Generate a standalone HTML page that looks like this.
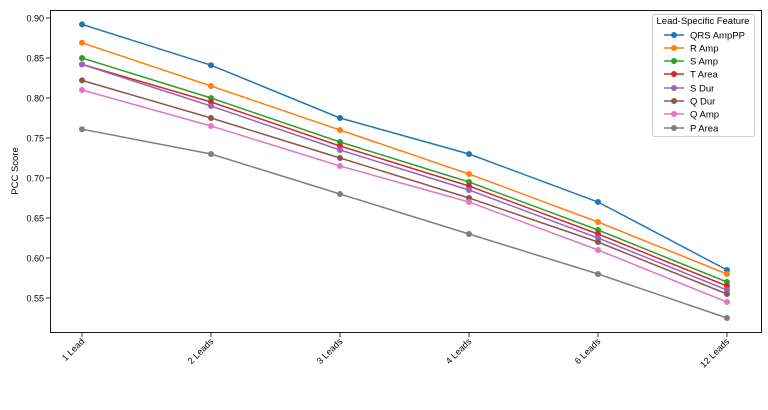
<!DOCTYPE html>
<html><head><meta charset="utf-8"><style>body{margin:0;background:#fff}svg{display:block;font-family:"Liberation Sans","DejaVu Sans",sans-serif}</style></head>
<body>
<svg id="s" width="768" height="410" viewBox="0 0 768 410" xmlns="http://www.w3.org/2000/svg">
<rect x="0" y="0" width="768" height="410" fill="#fff"/>
<g id="g"></g>
<rect x="50.5" y="10.5" width="711" height="322" fill="none" stroke="#000" stroke-width="0.9"/>
<text x="18" y="171" font-size="9.5" text-anchor="middle" transform="rotate(-90 18 171)">PCC Score</text>
</svg>
<script>
const ns="http://www.w3.org/2000/svg",g=document.getElementById('g');
function el(t,a,txt){const e=document.createElementNS(ns,t);for(const k in a)e.setAttribute(k,a[k]);if(txt!==undefined)e.textContent=txt;g.appendChild(e);return e;}
const Y=v=>18+(0.90-v)*800, X=[82,211,340,469,598,727];
const labs=["1 Lead","2 Leads","3 Leads","4 Leads","6 Leads","12 Leads"];
[0.90,0.85,0.80,0.75,0.70,0.65,0.60,0.55].forEach(v=>{const y=Y(v);el('line',{x1:46,x2:50,y1:y,y2:y,stroke:'#000','stroke-width':0.8});el('text',{x:44,y:y+3.3,'font-size':9,'text-anchor':'end'},v.toFixed(2));});
X.forEach((x,i)=>{el('line',{x1:x,x2:x,y1:333,y2:337,stroke:'#000','stroke-width':0.8});el('text',{x:x+3,y:342,'font-size':9,'text-anchor':'end',transform:`rotate(-45 ${x+3} 342)`},labs[i]);});
const S=[["QRS AmpPP","#1f77b4",[0.892,0.841,0.775,0.730,0.670,0.585]],
["R Amp","#ff7f0e",[0.869,0.815,0.760,0.705,0.645,0.580]],
["S Amp","#2ca02c",[0.850,0.800,0.745,0.695,0.635,0.570]],
["T Area","#d62728",[0.842,0.795,0.740,0.690,0.630,0.565]],
["S Dur","#9467bd",[0.842,0.790,0.735,0.685,0.625,0.560]],
["Q Dur","#8c564b",[0.822,0.775,0.725,0.675,0.620,0.555]],
["Q Amp","#e377c2",[0.810,0.765,0.715,0.670,0.610,0.545]],
["P Area","#7f7f7f",[0.761,0.730,0.680,0.630,0.580,0.525]]];
S.forEach(([n,c,d])=>{el('polyline',{points:d.map((v,i)=>X[i]+','+Y(v)).join(' '),fill:'none',stroke:c,'stroke-width':1.5});d.forEach((v,i)=>el('circle',{cx:X[i],cy:Y(v),r:3,fill:c}));});
el('rect',{x:652.5,y:14.5,width:102,height:122,fill:'#fff','fill-opacity':0.8,stroke:'#ccc',rx:2});
el('text',{x:703,y:24,'font-size':9.5,'text-anchor':'middle'},'Lead-Specific Feature');
const ry=[35,48,61,74,88,101,114,128];
S.forEach(([n,c],i)=>{const y=ry[i];el('line',{x1:664,x2:684,y1:y,y2:y,stroke:c,'stroke-width':1.5});el('circle',{cx:674,cy:y,r:3,fill:c});el('text',{x:690,y:y+3.4,'font-size':9.5},n);});
</script>
</body></html>
